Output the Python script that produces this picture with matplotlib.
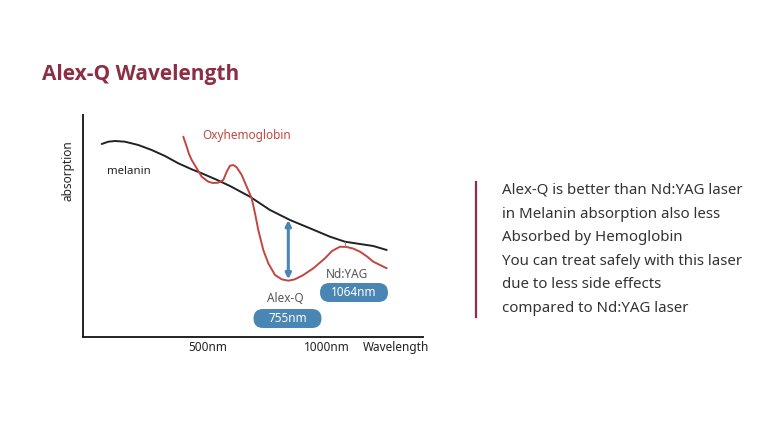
import matplotlib
matplotlib.use('Agg')
import matplotlib.pyplot as plt
from matplotlib.patches import FancyBboxPatch

plt.rcParams['font.family'] = ['Noto Sans', 'DejaVu Sans']

# schematic units
melanin_x = [18.7, 25.3, 32, 42, 55.3, 68.7, 82, 95.3, 108.7, 118.7, 132, 147, 167, 187,
             207, 227, 247, 262, 277, 290.3, 303.7]
melanin_y = [193, 195.3, 196, 195.3, 192, 187, 181, 173.7, 167.7, 163.7, 158, 151, 140.3, 127,
             117, 108.7, 100.3, 95.3, 93, 91, 87]

oxy_x = [100.3, 103.7, 106, 108.7, 113.7, 118.7, 125.3, 130, 135.3, 140.3, 143.7, 147, 150.3,
         153.7, 158.7, 163.7, 168.7, 172, 175.3, 180.3, 185.3, 192, 198.7, 205.3, 212, 220.3,
         230.3, 242, 249, 257, 263.7, 270, 277, 284, 290.3, 297, 303.7]
oxy_y = [200.3, 190.3, 183, 177, 168.7, 160.3, 155.3, 154, 154.3, 157, 165.3, 171.3, 172,
         169.7, 162, 150.3, 138.7, 123.7, 107, 87, 73.7, 62, 57.7, 56.3, 57.7, 62,
         68.7, 78.7, 86, 90.3, 90, 88.5, 85.3, 80.5, 75.3, 72, 68.7]

tick_pos = [125, 244]
tick_labels = ['500nm', '1000nm']

arrow_x = 205.3
arrow_y = (57.7, 117)

lasers = ['Alex-Q', 'Nd:YAG']
laser_nm = ['755nm', '1064nm']
pill_center = [(204.5, 18.5), (271, 44.5)]
label_pos = [(202, 39), (263.7, 63)]

notes = ['Alex-Q is better than Nd:YAG laser',
         'in Melanin absorption also less',
         'Absorbed by Hemoglobin',
         'You can treat safely with this laser',
         'due to less side effects',
         'compared to Nd:YAG laser']

blue = '#4a86b4'
red = '#c2463f'
maroon = '#8c2f45'

fig = plt.figure(figsize=(7.73, 4.26), dpi=100)
fig.patch.set_facecolor('white')

fig.text(0.054, 0.824, 'Alex-Q Wavelength', fontsize=15, fontweight='bold',
         family=['Open Sans', 'DejaVu Sans'], color=maroon, va='center', ha='left')

ax = fig.add_axes([83 / 773, 89 / 426, 340 / 773, 222 / 426])
ax.set_xlim(0, 340)
ax.set_ylim(0, 222)
for s in ['top', 'right']:
    ax.spines[s].set_visible(False)
for s in ['left', 'bottom']:
    ax.spines[s].set_linewidth(1.4)
    ax.spines[s].set_color('#222222')
ax.set_yticks([])
ax.set_xticks(tick_pos)
ax.set_xticklabels(tick_labels, fontsize=8.5, color='#222222')
ax.tick_params(axis='x', length=0, pad=3)
ax.text(313, -10, 'Wavelength', fontsize=8.5, color='#222222', ha='center', va='center',
        clip_on=False)
ax.text(-15, 166, 'absorption', fontsize=8.5, color='#222222', rotation=90,
        ha='center', va='center', clip_on=False)

ax.plot(melanin_x, melanin_y, color='#222222', lw=1.4, solid_capstyle='round',
        solid_joinstyle='round')
ax.plot(oxy_x, oxy_y, color=red, lw=1.4, solid_capstyle='round', solid_joinstyle='round')

ax.text(24, 165, 'melanin', fontsize=8.2, color='#222222', va='center')
ax.text(119, 201, 'Oxyhemoglobin', fontsize=8.5, color=red, va='center')

ax.annotate('', xy=(arrow_x, arrow_y[0]), xytext=(arrow_x, arrow_y[1]),
            arrowprops=dict(arrowstyle='<|-|>', color=blue, lw=2.2,
                            mutation_scale=8, shrinkA=0, shrinkB=0))
ax.plot([262, 262], [90.3, 95.3], color='#888888', lw=0.8)

for name, nm, (cx, cy), (lx, ly) in zip(lasers, laser_nm, pill_center, label_pos):
    ax.add_patch(FancyBboxPatch((cx - 34, cy - 9.5), 68, 19,
                                boxstyle='round,pad=0,rounding_size=9.5',
                                fc=blue, ec='none'))
    ax.text(cx, cy, nm, fontsize=8.5, color='white', ha='center', va='center')
    ax.text(lx, ly, name, fontsize=8.5, color='#555555', ha='center', va='center')

fig.add_artist(plt.Line2D([476 / 773, 476 / 773], [1 - 182 / 426, 1 - 317 / 426],
                          color=maroon, lw=1.6))
line_y = [190, 214, 238, 261.7, 285, 308.3]
for t, py in zip(notes, line_y):
    fig.text(502 / 773, 1 - py / 426, t, fontsize=10.8, color='#333333',
             ha='left', va='center')

fig.savefig('out.png', dpi=100)
